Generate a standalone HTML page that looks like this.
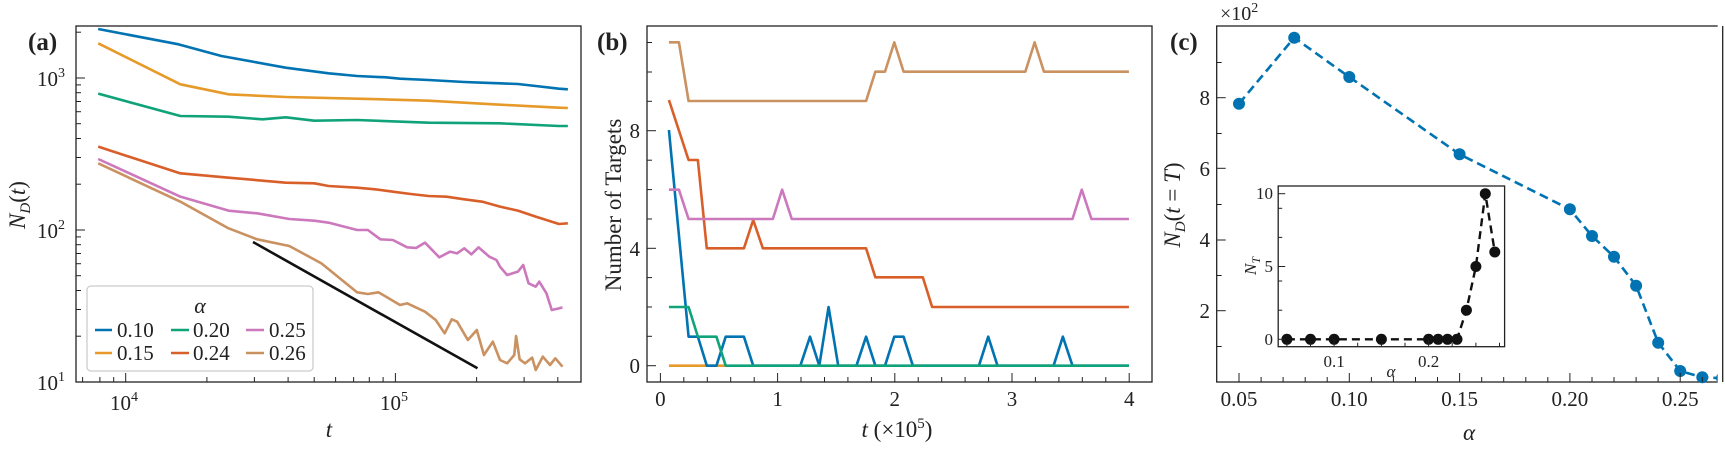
<!DOCTYPE html>
<html><head><meta charset="utf-8"><style>
body{margin:0;background:#fff}
svg{display:block}
text{font-family:"Liberation Serif",serif;fill:#222}
.tk{font-size:21px}
.s{fill:none;stroke-width:2.6;vector-effect:non-scaling-stroke;stroke-linejoin:round}
.ax{fill:none;stroke:#222;stroke-width:1.3}
.t{stroke:#222;stroke-width:1}
</style></head><body>
<svg width="1725" height="449" viewBox="0 0 1725 449" xmlns="http://www.w3.org/2000/svg">
<!-- ===== Panel (a) ===== -->
<g transform="scale(0.357143,0.333333)">
<polyline class="s" stroke="#0173b2" points="275,87 500,133 620,168 800,203 920,220 1000,228 1080,232 1120,236 1200,240 1300,246 1350,248 1400,250 1450,252 1500,258 1565,266 1590,268"/>
<polyline class="s" stroke="#e69a2a" points="275,130 505,253 640,283 800,291 1000,296 1200,302 1400,314 1565,323 1590,324"/>
<polyline class="s" stroke="#10a37a" points="275,281 505,348 640,350 735,358 800,352 880,362 1000,360 1200,368 1400,370 1565,378 1590,378"/>
<polyline class="s" stroke="#d95f2a" points="275,440 505,520 640,533 800,548 880,550 920,558 1000,563 1050,568 1100,575 1150,582 1200,588 1250,590 1300,598 1350,605 1400,620 1450,632 1500,650 1530,660 1565,672 1590,670"/>
<polyline class="s" stroke="#cc78bc" points="275,477 505,590 640,632 720,640 810,657 880,662 920,668 1000,690 1030,690 1065,718 1100,720 1140,742 1165,744 1190,728 1230,772 1260,755 1280,760 1300,745 1320,763 1340,742 1370,770 1390,780 1400,800 1420,825 1450,815 1465,795 1480,850 1500,860 1510,845 1530,880 1545,930 1565,925 1575,922"/>
<polyline class="s" stroke="#ca9161" points="275,490 505,605 640,685 720,718 810,738 900,790 1000,877 1030,882 1060,877 1120,915 1140,910 1190,935 1220,960 1245,1000 1265,958 1280,965 1310,1020 1335,990 1355,1065 1380,1025 1400,1080 1420,1090 1440,1065 1445,1008 1455,1078 1470,1090 1490,1073 1500,1110 1520,1070 1540,1095 1555,1075 1575,1100"/>
</g>
<line x1="253" y1="242" x2="477.5" y2="368.3" stroke="#111" stroke-width="2.6"/>
<rect class="ax" x="76" y="26" width="505" height="356"/>
<g class="t">
<line x1="125.7" y1="382" x2="125.7" y2="373"/><line x1="395.4" y1="382" x2="395.4" y2="373"/>
<line x1="82.6" y1="382" x2="82.6" y2="377"/><line x1="99.9" y1="382" x2="99.9" y2="377"/><line x1="113.7" y1="382" x2="113.7" y2="377"/>
<line x1="206.9" y1="382" x2="206.9" y2="377"/><line x1="254.4" y1="382" x2="254.4" y2="377"/><line x1="288.1" y1="382" x2="288.1" y2="377"/><line x1="314.2" y1="382" x2="314.2" y2="377"/><line x1="335.6" y1="382" x2="335.6" y2="377"/><line x1="353.6" y1="382" x2="353.6" y2="377"/><line x1="369.3" y1="382" x2="369.3" y2="377"/><line x1="383.1" y1="382" x2="383.1" y2="377"/>
<line x1="476.6" y1="382" x2="476.6" y2="377"/><line x1="524.1" y1="382" x2="524.1" y2="377"/><line x1="557.8" y1="382" x2="557.8" y2="377"/>
<line x1="76" y1="78" x2="85" y2="78"/><line x1="76" y1="230" x2="85" y2="230"/>
<line x1="76" y1="336.2" x2="81" y2="336.2"/><line x1="76" y1="309.5" x2="81" y2="309.5"/><line x1="76" y1="290.5" x2="81" y2="290.5"/><line x1="76" y1="275.7" x2="81" y2="275.7"/><line x1="76" y1="263.7" x2="81" y2="263.7"/><line x1="76" y1="253.5" x2="81" y2="253.5"/><line x1="76" y1="244.7" x2="81" y2="244.7"/><line x1="76" y1="236.9" x2="81" y2="236.9"/>
<line x1="76" y1="184.2" x2="81" y2="184.2"/><line x1="76" y1="157.5" x2="81" y2="157.5"/><line x1="76" y1="138.5" x2="81" y2="138.5"/><line x1="76" y1="123.7" x2="81" y2="123.7"/><line x1="76" y1="111.7" x2="81" y2="111.7"/><line x1="76" y1="101.5" x2="81" y2="101.5"/><line x1="76" y1="92.7" x2="81" y2="92.7"/><line x1="76" y1="84.9" x2="81" y2="84.9"/>
<line x1="76" y1="32.2" x2="81" y2="32.2"/>
</g>
<text class="tk" x="37" y="86">10<tspan font-size="14" dy="-9">3</tspan></text>
<text class="tk" x="37" y="238">10<tspan font-size="14" dy="-9">2</tspan></text>
<text class="tk" x="37" y="390">10<tspan font-size="14" dy="-9">1</tspan></text>
<text class="tk" x="110" y="410">10<tspan font-size="14" dy="-9">4</tspan></text>
<text class="tk" x="380" y="410">10<tspan font-size="14" dy="-9">5</tspan></text>
<text x="329" y="437" font-size="23" font-style="italic" text-anchor="middle">t</text>
<text x="0" y="0" font-size="23" transform="translate(25,205) rotate(-90)" text-anchor="middle"><tspan font-style="italic">N</tspan><tspan font-size="15" font-style="italic" dy="5">D</tspan><tspan dy="-5">(</tspan><tspan font-style="italic">t</tspan>)</text>
<text x="28" y="50" font-size="25" font-weight="bold">(a)</text>
<!-- legend -->
<rect x="87" y="286" width="226" height="85" rx="4" fill="#fff" fill-opacity="0.85" stroke="#ccc" stroke-width="1.3"/>
<text x="200" y="313" font-size="22" font-style="italic" text-anchor="middle">α</text>
<g stroke-width="2.6">
<line x1="95" y1="330" x2="112" y2="330" stroke="#0173b2"/><line x1="95" y1="353" x2="112" y2="353" stroke="#e69a2a"/>
<line x1="171" y1="330" x2="189" y2="330" stroke="#10a37a"/><line x1="171" y1="353" x2="189" y2="353" stroke="#d95f2a"/>
<line x1="246" y1="330" x2="264" y2="330" stroke="#cc78bc"/><line x1="246" y1="353" x2="264" y2="353" stroke="#ca9161"/>
</g>
<g class="tk"><text x="117" y="337">0.10</text><text x="117" y="360">0.15</text><text x="193" y="337">0.20</text><text x="193" y="360">0.24</text><text x="269" y="337">0.25</text><text x="269" y="360">0.26</text></g>

<!-- ===== Panel (b) ===== -->
<g transform="translate(560,0) scale(0.357143,0.333333)">
<polyline class="s" stroke="#e69a2a" points="305,1097 464,1097"/>
<polyline class="s" stroke="#0173b2" points="305,390 360,1010 386,1010 411,1097 438,1097 464,1010 515,1010 541,1097 673,1097 700,1010 726,1097 752,921 779,1097 830,1097 857,1010 883,1097 910,1097 936,1010 962,1010 988,1097 1173,1097 1199,1010 1225,1097 1382,1097 1408,1010 1435,1097 1593,1097"/>
<polyline class="s" stroke="#10a37a" points="305,921 360,921 386,1010 438,1010 464,1097 1593,1097"/>
<polyline class="s" stroke="#d95f2a" points="305,300 360,480 386,480 411,745 515,745 541,660 568,745 857,745 883,832 1016,832 1042,921 1593,921"/>
<polyline class="s" stroke="#cc78bc" points="305,569 333,569 360,657 596,657 622,569 649,657 1435,657 1461,569 1488,657 1593,657"/>
<polyline class="s" stroke="#ca9161" points="305,127 333,127 360,303 857,303 883,215 910,215 936,127 962,215 1303,215 1329,127 1355,215 1593,215"/>
</g>
<rect class="ax" x="647" y="26" width="505" height="356"/>
<g class="t">
<line x1="660.4" y1="382" x2="660.4" y2="373"/><line x1="777.6" y1="382" x2="777.6" y2="373"/><line x1="894.8" y1="382" x2="894.8" y2="373"/><line x1="1012" y1="382" x2="1012" y2="373"/><line x1="1129.2" y1="382" x2="1129.2" y2="373"/>
<line x1="683.8" y1="382" x2="683.8" y2="377"/><line x1="707.3" y1="382" x2="707.3" y2="377"/><line x1="730.7" y1="382" x2="730.7" y2="377"/><line x1="754.2" y1="382" x2="754.2" y2="377"/>
<line x1="801" y1="382" x2="801" y2="377"/><line x1="824.5" y1="382" x2="824.5" y2="377"/><line x1="847.9" y1="382" x2="847.9" y2="377"/><line x1="871.4" y1="382" x2="871.4" y2="377"/>
<line x1="918.2" y1="382" x2="918.2" y2="377"/><line x1="941.7" y1="382" x2="941.7" y2="377"/><line x1="965.1" y1="382" x2="965.1" y2="377"/><line x1="988.6" y1="382" x2="988.6" y2="377"/>
<line x1="1035.4" y1="382" x2="1035.4" y2="377"/><line x1="1058.9" y1="382" x2="1058.9" y2="377"/><line x1="1082.3" y1="382" x2="1082.3" y2="377"/><line x1="1105.8" y1="382" x2="1105.8" y2="377"/>
<line x1="647" y1="365.7" x2="656" y2="365.7"/><line x1="647" y1="248.3" x2="656" y2="248.3"/><line x1="647" y1="130.7" x2="656" y2="130.7"/>
<line x1="647" y1="336.3" x2="652" y2="336.3"/><line x1="647" y1="307" x2="652" y2="307"/><line x1="647" y1="277.6" x2="652" y2="277.6"/><line x1="647" y1="219" x2="652" y2="219"/><line x1="647" y1="189.6" x2="652" y2="189.6"/><line x1="647" y1="160.2" x2="652" y2="160.2"/><line x1="647" y1="101.3" x2="652" y2="101.3"/><line x1="647" y1="72" x2="652" y2="72"/><line x1="647" y1="42.5" x2="652" y2="42.5"/>
</g>
<g class="tk" text-anchor="end"><text x="640" y="373">0</text><text x="640" y="256">4</text><text x="640" y="138">8</text></g>
<g class="tk" text-anchor="middle"><text x="660.4" y="406">0</text><text x="777.6" y="406">1</text><text x="894.8" y="406">2</text><text x="1012" y="406">3</text><text x="1129.2" y="406">4</text></g>
<text x="897" y="437" font-size="23" text-anchor="middle"><tspan font-style="italic">t</tspan> (×10<tspan font-size="15" dy="-9">5</tspan><tspan dy="9">)</tspan></text>
<text font-size="23" transform="translate(621,205) rotate(-90)" text-anchor="middle">Number of Targets</text>
<text x="597" y="50" font-size="25" font-weight="bold">(b)</text>

<!-- ===== Panel (c) ===== -->
<rect class="ax" x="1216.7" y="26" width="506" height="356"/>
<polyline fill="none" stroke="#0173b2" stroke-width="2.6" stroke-dasharray="9,5" points="1239,103.7 1294.2,37.7 1349.3,77 1459.6,154.3 1569.9,209.3 1592,236 1614,256.7 1636.1,285.7 1658.2,342.7 1680.2,371 1702.3,377.3 1722,378.3"/>
<g fill="#0173b2">
<circle cx="1239" cy="103.7" r="6"/><circle cx="1294.2" cy="37.7" r="6"/><circle cx="1349.3" cy="77" r="6"/><circle cx="1459.6" cy="154.3" r="6"/><circle cx="1569.9" cy="209.3" r="6"/><circle cx="1592" cy="236" r="6"/><circle cx="1614" cy="256.7" r="6"/><circle cx="1636.1" cy="285.7" r="6"/><circle cx="1658.2" cy="342.7" r="6"/><circle cx="1680.2" cy="371" r="6"/><circle cx="1702.3" cy="377.3" r="6"/><circle cx="1722" cy="378.3" r="6"/>
</g>
<rect x="1717.7" y="20" width="8" height="370" fill="#fff"/>
<line x1="1722.7" y1="26" x2="1722.7" y2="382" stroke="#222" stroke-width="1.3"/>
<g class="t">
<line x1="1239" y1="382" x2="1239" y2="373"/><line x1="1349.3" y1="382" x2="1349.3" y2="373"/><line x1="1459.6" y1="382" x2="1459.6" y2="373"/><line x1="1569.9" y1="382" x2="1569.9" y2="373"/><line x1="1680.2" y1="382" x2="1680.2" y2="373"/>
<line x1="1261.1" y1="382" x2="1261.1" y2="377"/><line x1="1283.1" y1="382" x2="1283.1" y2="377"/><line x1="1305.2" y1="382" x2="1305.2" y2="377"/><line x1="1327.2" y1="382" x2="1327.2" y2="377"/>
<line x1="1371.4" y1="382" x2="1371.4" y2="377"/><line x1="1393.4" y1="382" x2="1393.4" y2="377"/><line x1="1415.5" y1="382" x2="1415.5" y2="377"/><line x1="1437.5" y1="382" x2="1437.5" y2="377"/>
<line x1="1481.7" y1="382" x2="1481.7" y2="377"/><line x1="1503.7" y1="382" x2="1503.7" y2="377"/><line x1="1525.8" y1="382" x2="1525.8" y2="377"/><line x1="1547.8" y1="382" x2="1547.8" y2="377"/>
<line x1="1592" y1="382" x2="1592" y2="377"/><line x1="1614" y1="382" x2="1614" y2="377"/><line x1="1636.1" y1="382" x2="1636.1" y2="377"/><line x1="1658.1" y1="382" x2="1658.1" y2="377"/><line x1="1702.3" y1="382" x2="1702.3" y2="377"/>
<line x1="1216.7" y1="310.7" x2="1225.7" y2="310.7"/><line x1="1216.7" y1="240" x2="1225.7" y2="240"/><line x1="1216.7" y1="168.3" x2="1225.7" y2="168.3"/><line x1="1216.7" y1="97.7" x2="1225.7" y2="97.7"/>
<line x1="1216.7" y1="346.5" x2="1221.7" y2="346.5"/><line x1="1216.7" y1="275.5" x2="1221.7" y2="275.5"/><line x1="1216.7" y1="204.5" x2="1221.7" y2="204.5"/><line x1="1216.7" y1="133.5" x2="1221.7" y2="133.5"/><line x1="1216.7" y1="62.5" x2="1221.7" y2="62.5"/>
</g>
<g class="tk" text-anchor="end"><text x="1210" y="318">2</text><text x="1210" y="247">4</text><text x="1210" y="176">6</text><text x="1210" y="105">8</text></g>
<g class="tk" text-anchor="middle"><text x="1239" y="406">0.05</text><text x="1349.3" y="406">0.10</text><text x="1459.6" y="406">0.15</text><text x="1569.9" y="406">0.20</text><text x="1680.2" y="406">0.25</text></g>
<text x="1469" y="440" font-size="23" font-style="italic" text-anchor="middle">α</text>
<text x="1220" y="20" font-size="20">×10<tspan font-size="14" dy="-8">2</tspan></text>
<text font-size="23" transform="translate(1180,205) rotate(-90)" text-anchor="middle"><tspan font-style="italic">N</tspan><tspan font-size="15" font-style="italic" dy="5">D</tspan><tspan dy="-5">(</tspan><tspan font-style="italic">t</tspan> = <tspan font-style="italic">T</tspan>)</text>
<text x="1170" y="50" font-size="25" font-weight="bold">(c)</text>
<!-- inset -->
<rect x="1278.2" y="186" width="226.4" height="160.7" fill="#fff" stroke="#222" stroke-width="1.3"/>
<polyline fill="none" stroke="#111" stroke-width="2.4" stroke-dasharray="8,5" points="1286.9,339.3 1310.5,339.3 1334.1,339.3 1381.4,339.3 1428.6,339.3 1438.1,339.3 1447.5,339.3 1457,339.3 1466.4,310.2 1475.9,266.5 1485.3,193.7 1494.8,252"/>
<g fill="#111">
<circle cx="1286.9" cy="339.3" r="5.5"/><circle cx="1310.5" cy="339.3" r="5.5"/><circle cx="1334.1" cy="339.3" r="5.5"/><circle cx="1381.4" cy="339.3" r="5.5"/><circle cx="1428.6" cy="339.3" r="5.5"/><circle cx="1438.1" cy="339.3" r="5.5"/><circle cx="1447.5" cy="339.3" r="5.5"/><circle cx="1457" cy="339.3" r="5.5"/><circle cx="1466.4" cy="310.2" r="5.5"/><circle cx="1475.9" cy="266.5" r="5.5"/><circle cx="1485.3" cy="193.7" r="5.5"/><circle cx="1494.8" cy="252" r="5.5"/>
</g>
<g class="t">
<line x1="1334.1" y1="346.7" x2="1334.1" y2="339.7"/><line x1="1428.6" y1="346.7" x2="1428.6" y2="339.7"/>
<line x1="1286.9" y1="346.7" x2="1286.9" y2="342.7"/><line x1="1310.5" y1="346.7" x2="1310.5" y2="342.7"/><line x1="1357.7" y1="346.7" x2="1357.7" y2="342.7"/><line x1="1381.4" y1="346.7" x2="1381.4" y2="342.7"/><line x1="1405" y1="346.7" x2="1405" y2="342.7"/><line x1="1452.2" y1="346.7" x2="1452.2" y2="342.7"/><line x1="1475.9" y1="346.7" x2="1475.9" y2="342.7"/><line x1="1499.5" y1="346.7" x2="1499.5" y2="342.7"/>
<line x1="1278.2" y1="339.3" x2="1285.2" y2="339.3"/><line x1="1278.2" y1="266.5" x2="1285.2" y2="266.5"/><line x1="1278.2" y1="193.7" x2="1285.2" y2="193.7"/>
<line x1="1278.2" y1="310.2" x2="1282.2" y2="310.2"/><line x1="1278.2" y1="281" x2="1282.2" y2="281"/><line x1="1278.2" y1="237.4" x2="1282.2" y2="237.4"/><line x1="1278.2" y1="208.3" x2="1282.2" y2="208.3"/>
</g>
<g font-size="17" text-anchor="end"><text x="1273" y="345">0</text><text x="1273" y="272">5</text><text x="1273" y="199">10</text></g>
<g font-size="17" text-anchor="middle"><text x="1334.1" y="367">0.1</text><text x="1428.6" y="367">0.2</text></g>
<text x="1391" y="377" font-size="17" font-style="italic" text-anchor="middle">α</text>
<text font-size="17" transform="translate(1256,266) rotate(-90)" text-anchor="middle"><tspan font-style="italic">N</tspan><tspan font-size="12" font-style="italic" dy="4">T</tspan></text>
</svg>
</body></html>
